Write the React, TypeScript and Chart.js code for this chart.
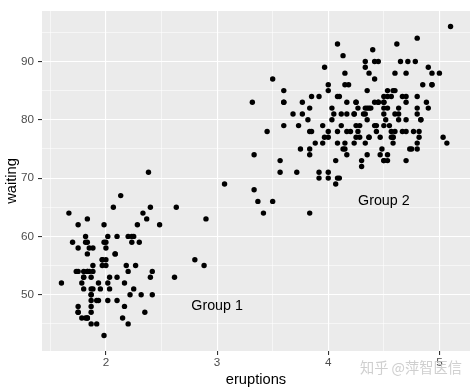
import { useEffect, useRef } from "react";
import { Chart, registerables } from "chart.js";

Chart.register(...registerables);

const eruptions: number[] = [
  3.600, 1.800, 3.333, 2.283, 4.533, 2.883, 4.700, 3.600, 1.950, 4.350,
  1.833, 3.917, 4.200, 1.750, 4.700, 2.167, 1.750, 4.800, 1.600, 4.250,
  1.800, 1.750, 3.450, 3.067, 4.533, 3.600, 1.967, 4.083, 3.850, 4.433,
  4.300, 4.467, 3.367, 4.033, 3.833, 2.017, 1.867, 4.833, 1.833, 4.783,
  4.350, 1.883, 4.567, 1.750, 4.533, 3.317, 3.833, 2.100, 4.633, 2.000,
  4.800, 4.716, 1.833, 4.833, 1.733, 4.883, 3.717, 1.667, 4.567, 4.317,
  2.233, 4.500, 1.750, 4.800, 1.817, 4.400, 4.167, 4.700, 2.067, 4.700,
  4.033, 1.967, 4.500, 4.000, 1.983, 5.067, 2.017, 4.567, 3.883, 3.600,
  4.133, 4.333, 4.100, 2.633, 4.067, 4.933, 3.950, 4.517, 2.167, 4.000,
  2.200, 4.333, 1.867, 4.817, 1.833, 4.300, 4.667, 3.750, 1.867, 4.900,
  2.483, 4.367, 2.100, 4.500, 4.050, 1.867, 4.700, 1.783, 4.850, 3.683,
  4.733, 2.300, 4.900, 4.417, 1.700, 4.633, 2.317, 4.600, 1.817, 4.417,
  2.617, 4.067, 4.250, 1.967, 4.600, 3.767, 1.917, 4.500, 2.267, 4.650,
  1.867, 4.167, 2.800, 4.333, 1.833, 4.383, 1.883, 4.933, 2.033, 3.733,
  4.233, 2.233, 4.533, 4.817, 4.333, 1.983, 4.633, 2.017, 5.100, 1.800,
  5.033, 4.000, 2.400, 4.600, 3.567, 4.000, 4.500, 4.083, 1.800, 3.967,
  2.200, 4.150, 2.000, 3.833, 3.500, 4.583, 2.367, 5.000, 1.933, 4.617,
  1.917, 2.083, 4.583, 3.333, 4.167, 4.333, 4.500, 2.417, 4.000, 4.167,
  1.883, 4.583, 4.250, 3.767, 2.033, 4.433, 4.083, 1.833, 4.417, 2.183,
  4.800, 1.833, 4.800, 4.100, 3.966, 4.233, 3.500, 4.366, 2.250, 4.667,
  2.100, 4.350, 4.133, 1.867, 4.600, 1.783, 4.367, 3.850, 1.933, 4.500,
  2.383, 4.700, 1.867, 3.833, 3.417, 4.233, 2.400, 4.800, 2.000, 4.150,
  1.867, 4.267, 1.750, 4.483, 4.000, 4.117, 4.083, 4.267, 3.917, 4.550,
  4.083, 2.417, 4.183, 2.217, 4.450, 1.883, 1.850, 4.283, 3.950, 2.333,
  4.150, 2.350, 4.933, 2.900, 4.583, 3.833, 2.083, 4.367, 2.133, 4.350,
  2.200, 4.450, 3.567, 4.500, 4.150, 3.817, 3.917, 4.450, 2.000, 4.283,
  4.767, 4.533, 1.850, 4.250, 1.983, 2.250, 4.750, 4.117, 2.150, 4.417,
  1.817, 4.467,
];

const waiting: number[] = [
  79, 54, 74, 62, 85, 55, 88, 85, 51, 85,
  54, 84, 78, 47, 83, 52, 62, 84, 52, 79,
  51, 47, 78, 69, 74, 83, 55, 76, 78, 79,
  73, 77, 66, 80, 74, 52, 48, 80, 59, 90,
  80, 58, 84, 58, 73, 83, 64, 53, 82, 59,
  75, 90, 54, 80, 54, 83, 71, 64, 77, 81,
  59, 84, 48, 82, 60, 92, 78, 78, 65, 73,
  82, 56, 79, 71, 62, 76, 60, 78, 76, 83,
  75, 82, 70, 65, 73, 88, 76, 80, 48, 86,
  60, 90, 50, 78, 63, 72, 84, 75, 51, 82,
  62, 88, 49, 83, 81, 47, 84, 52, 86, 81,
  75, 59, 89, 79, 59, 81, 50, 85, 59, 87,
  53, 69, 77, 56, 88, 81, 45, 82, 55, 90,
  45, 83, 56, 89, 46, 82, 51, 86, 53, 79,
  81, 60, 82, 77, 76, 59, 80, 49, 96, 53,
  77, 77, 65, 81, 71, 70, 81, 93, 53, 89,
  45, 86, 58, 78, 66, 76, 63, 88, 52, 93,
  49, 57, 77, 68, 81, 81, 73, 50, 85, 74,
  55, 77, 83, 83, 51, 78, 84, 46, 83, 55,
  81, 57, 76, 84, 77, 81, 87, 77, 51, 78,
  60, 82, 91, 53, 78, 46, 77, 84, 49, 83,
  71, 80, 49, 75, 64, 76, 53, 94, 55, 76,
  50, 82, 54, 75, 78, 79, 78, 78, 70, 79,
  70, 54, 86, 50, 90, 54, 54, 77, 79, 64,
  75, 47, 86, 63, 85, 82, 57, 82, 67, 74,
  54, 83, 73, 73, 88, 80, 71, 83, 56, 79,
  78, 84, 58, 83, 43, 60, 75, 81, 46, 90,
  46, 74,
];

const xGridValues = [1.5, 2, 2.5, 3, 3.5, 4, 4.5, 5];
const xTickLabels = ["2", "3", "4", "5"];
const yGridValues = [45, 50, 55, 60, 65, 70, 75, 80, 85, 90, 95];
const yTickLabels = ["50", "60", "70", "80", "90"];

const groupLabels = ["Group 1", "Group 2"];
const groupX = [3, 4.5];
const groupY = [48, 66];

const xTitle = "eruptions";
const yTitle = "waiting";
const watermark = "知乎 @萍智医信";

const FONT = "'Liberation Sans', Arial, sans-serif";

export default function App() {
  const ref = useRef<HTMLCanvasElement | null>(null);

  useEffect(() => {
    const canvas = ref.current;
    if (!canvas) return;
    const points = eruptions.map((x, i) => ({ x, y: waiting[i] }));

    const bgPlugin = {
      id: "panelBg",
      beforeDraw(chart: any) {
        const { ctx, chartArea: a } = chart;
        ctx.save();
        ctx.fillStyle = "#ffffff";
        ctx.fillRect(0, 0, chart.width, chart.height);
        ctx.fillStyle = "#EBEBEB";
        ctx.fillRect(a.left, a.top, a.right - a.left, a.bottom - a.top);
        ctx.restore();
      },
      afterDraw(chart: any) {
        const { ctx } = chart;
        const xs = chart.scales.x;
        const ys = chart.scales.y;
        ctx.save();
        ctx.fillStyle = "#000000";
        ctx.font = `14.3px ${FONT}`;
        ctx.textAlign = "center";
        ctx.textBaseline = "middle";
        groupLabels.forEach((t, i) => {
          ctx.fillText(t, xs.getPixelForValue(groupX[i]), ys.getPixelForValue(groupY[i]));
        });
        // watermark
        ctx.font = `15px 'Noto Sans CJK SC', sans-serif`;
        const w = ctx.measureText(watermark).width;
        const size = 15 * 102 / w;
        ctx.font = `${size}px 'Noto Sans CJK SC', sans-serif`;
        ctx.textAlign = "left";
        ctx.fillStyle = "rgba(195,195,195,0.8)";
        ctx.fillText(watermark, 360, 368);
        ctx.restore();
      },
    };

    const chart = new Chart(canvas, {
      type: "scatter",
      data: {
        datasets: [
          {
            data: points,
            backgroundColor: "#000000",
            borderWidth: 0,
            pointRadius: 2.7,
            pointHoverRadius: 2.7,
          },
        ],
      },
      options: {
        responsive: false,
        animation: false,
        events: [],
        layout: { padding: { top: 4.5, right: 4, left: 0, bottom: 0 } },
        plugins: {
          legend: { display: false },
          tooltip: { enabled: false },
        },
        scales: {
          x: {
            type: "linear",
            min: 1.425,
            max: 5.275,
            afterBuildTicks: (s: any) => {
              s.ticks = xGridValues.map((v) => ({ value: v }));
            },
            afterFit: (s: any) => {
              s.height = 39;
            },
            border: { display: false },
            grid: {
              color: "#ffffff",
              lineWidth: (c: any) => (c.tick && Number.isInteger(c.tick.value) ? 1.1 : 0.55),
              tickColor: (c: any) =>
                c.tick && Number.isInteger(c.tick.value) ? "#333333" : "rgba(0,0,0,0)",
              tickLength: 4,
              tickWidth: 1.1,
            },
            ticks: {
              padding: 1,
              color: "#4D4D4D",
              font: { family: FONT, size: 11.7 },
              maxRotation: 0,
              autoSkip: false,
              callback: (v: any) => {
                const s = String(v);
                return xTickLabels.includes(s) ? s : "";
              },
            },
            title: {
              display: true,
              text: xTitle,
              color: "#000000",
              font: { family: FONT, size: 14.7 },
              padding: { top: 0, bottom: 1.2 },
            },
          },
          y: {
            type: "linear",
            min: 40.35,
            max: 98.65,
            afterBuildTicks: (s: any) => {
              s.ticks = yGridValues.map((v) => ({ value: v }));
            },
            afterFit: (s: any) => {
              s.width = 42;
            },
            border: { display: false },
            grid: {
              color: "#ffffff",
              lineWidth: (c: any) => (c.tick && c.tick.value % 10 === 0 ? 1.1 : 0.55),
              tickColor: (c: any) =>
                c.tick && c.tick.value % 10 === 0 ? "#333333" : "rgba(0,0,0,0)",
              tickLength: 4,
              tickWidth: 1.1,
            },
            ticks: {
              padding: 4,
              color: "#4D4D4D",
              font: { family: FONT, size: 11.7 },
              autoSkip: false,
              callback: (v: any) => {
                const s = String(v);
                return yTickLabels.includes(s) ? s : "";
              },
            },
            title: {
              display: true,
              text: yTitle,
              color: "#000000",
              font: { family: FONT, size: 14.7 },
              padding: { top: 3, bottom: 0 },
            },
          },
        },
      },
      plugins: [bgPlugin],
    });

    return () => chart.destroy();
  }, []);

  return (
    <div style={{ position: "absolute", left: 0, top: 0, width: 474, height: 390 }}>
      <canvas ref={ref} width={474} height={390} style={{ display: "block" }} />
    </div>
  );
}
